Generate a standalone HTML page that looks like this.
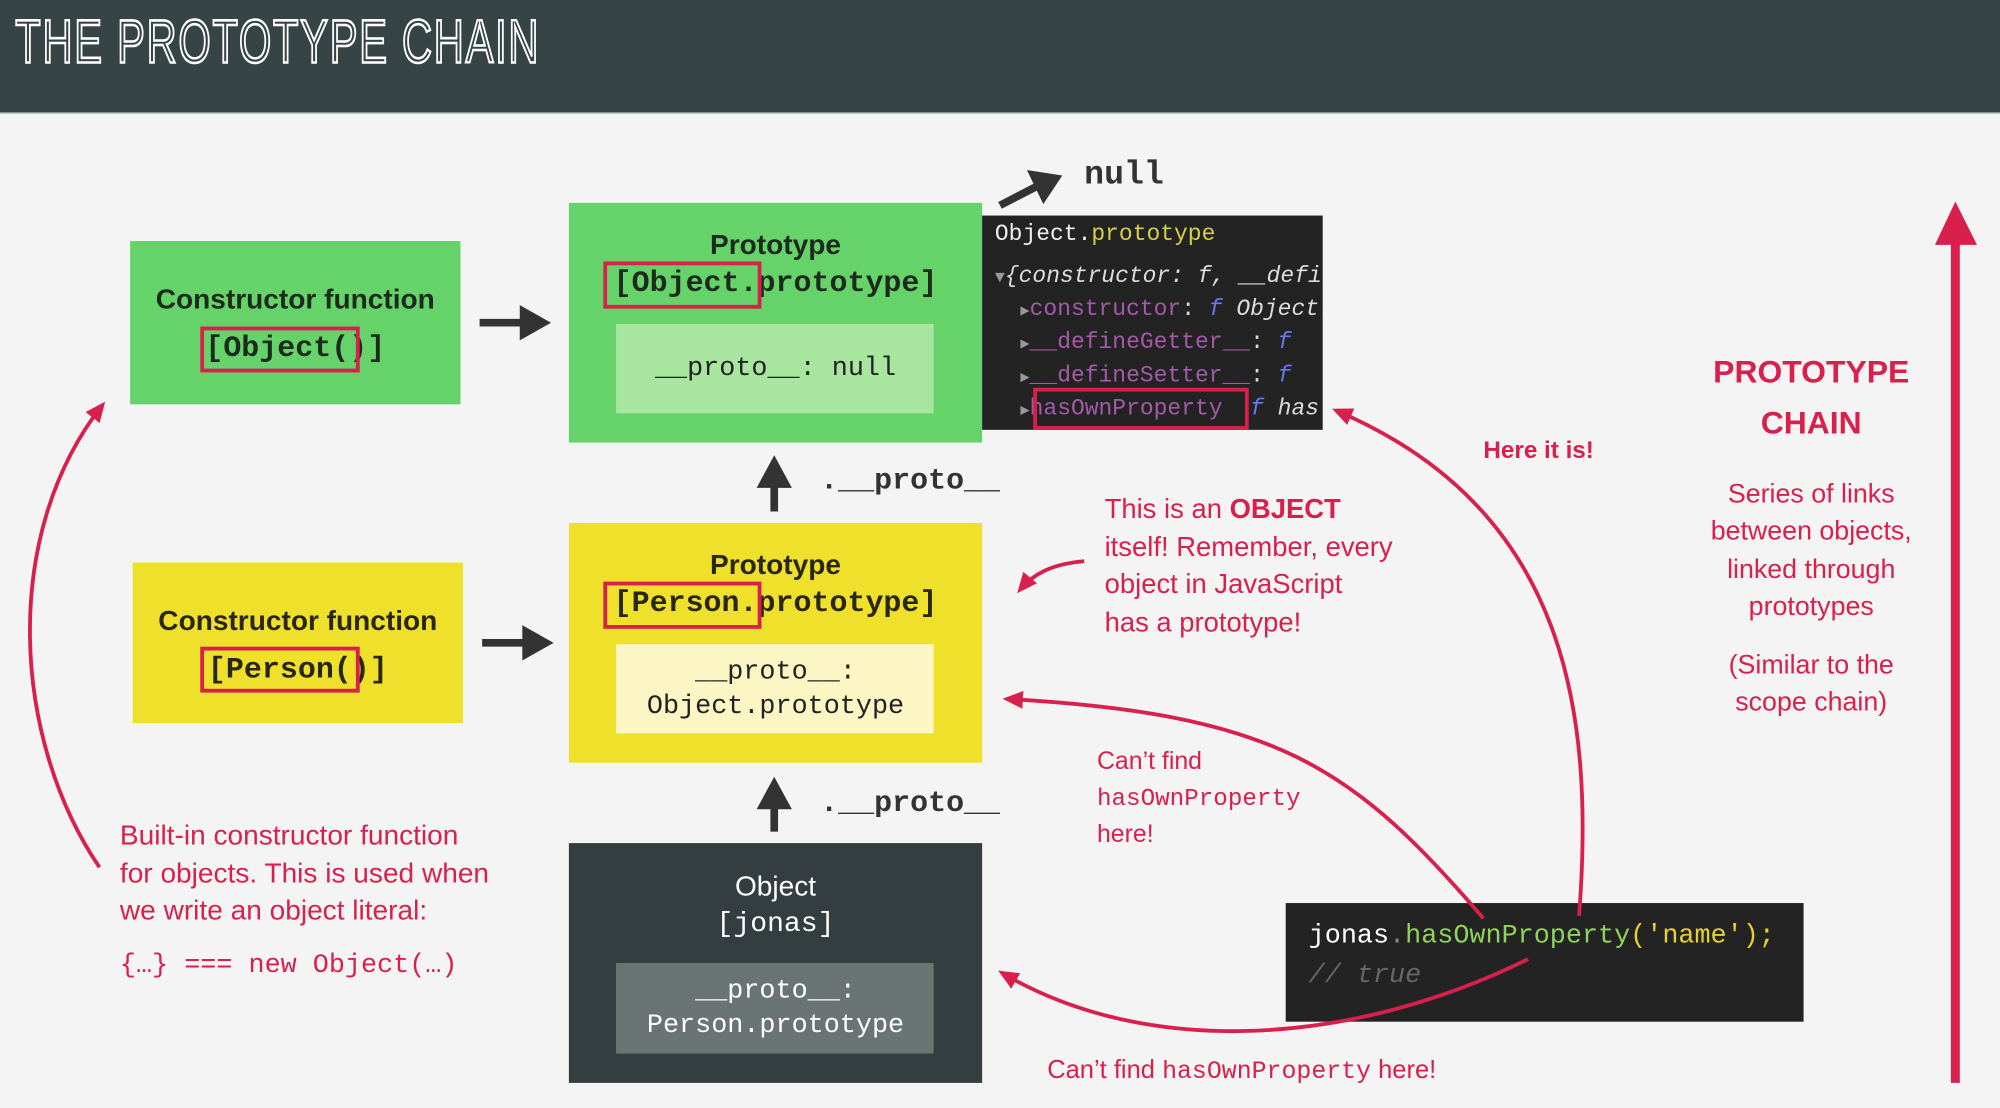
<!DOCTYPE html>
<html><head><meta charset="utf-8"><style>
html,body{margin:0;padding:0;width:2000px;height:1108px;overflow:hidden;background:#f4f4f4}
#s{position:absolute;left:0;top:0;width:1568px;height:869px;transform:scale(1.27551);transform-origin:0 0;font-family:"Liberation Sans",sans-serif}
.a{position:absolute}
.box{position:absolute;text-align:center}
.t{position:absolute;left:0;right:0;text-align:center;white-space:nowrap}
.sans{font-family:"Liberation Sans",sans-serif;font-weight:bold;font-size:22px}
.mono{font-family:"Liberation Mono",monospace;font-weight:bold;font-size:23.5px}
.rb{position:absolute;border:3px solid #d8204d;box-sizing:border-box}
.red{color:#d8204d}
.mc{font-family:"Liberation Mono",monospace}
</style></head><body><div id="s">
<div class="a" style="left:0;top:0;width:1568px;height:88px;background:#374446;border-bottom:1px solid #9aa"></div>
<div class="a" style="left:12px;top:6px;font-family:'Liberation Sans Narrow','Liberation Sans',sans-serif;font-size:48px;color:#374446;-webkit-text-stroke:2px #fff;letter-spacing:2px;transform:scaleX(0.68);transform-origin:0 0;white-space:nowrap">THE PROTOTYPE CHAIN</div>

<div class="box" style="left:102px;top:189px;width:259px;height:128px;background:#66d36a">
<div class="t sans" style="top:33px;color:#1d2b1d">Constructor function</div>
<div class="t mono" style="top:71px;color:#1d2b1d">[Object()]</div>
<div class="rb" style="left:55px;top:67px;width:125px;height:36px"></div></div>
<div class="box" style="left:446px;top:159px;width:324px;height:188px;background:#66d36a">
<div class="t sans" style="top:20px;color:#1d2b1d">Prototype</div>
<div class="t mono" style="top:50px;color:#1d2b1d">[Object.prototype]</div>
<div class="rb" style="left:27px;top:46px;width:124px;height:37px"></div>
<div class="a" style="left:37px;top:95px;width:249px;height:70px;background:#a8e6a0"></div>
<div class="t mc" style="top:119px;font-size:21px;color:#222">__proto__: null</div></div>

<div class="a mc" style="left:770px;top:169px;width:267px;height:168px;background:#232323;overflow:hidden;font-size:18px;line-height:26px;white-space:nowrap">
<div style="position:absolute;left:10px;top:2px;color:#eee">Object.<span style="color:#d8cf45">prototype</span></div>
<div style="position:absolute;left:10px;top:35px;color:#ddd;font-style:italic"><span style="font-style:normal;color:#999;font-size:13px">▼</span>{constructor: f, __defineGetter</div>
<div style="position:absolute;left:30px;top:61px;color:#a45aa8"><span style="color:#999;font-size:12px">▶</span>constructor<span style="color:#ddd">: </span><i style="color:#6b79f0">f</i> <i style="color:#ddd">Object()</i></div>
<div style="position:absolute;left:30px;top:87px;color:#a45aa8"><span style="color:#999;font-size:12px">▶</span>__defineGetter__<span style="color:#ddd">: </span><i style="color:#6b79f0">f</i></div>
<div style="position:absolute;left:30px;top:113px;color:#a45aa8"><span style="color:#999;font-size:12px">▶</span>__defineSetter__<span style="color:#ddd">: </span><i style="color:#6b79f0">f</i></div>
<div style="position:absolute;left:30px;top:139px;color:#a45aa8"><span style="color:#999;font-size:12px">▶</span>hasOwnProperty &nbsp;<i style="color:#6b79f0">f</i> <i style="color:#ddd">has</i></div>
<div class="rb" style="left:40px;top:135px;width:169px;height:33px"></div></div>
<div class="a mono" style="left:850px;top:122px;font-size:26px;color:#333">null</div>

<div class="box" style="left:104px;top:441px;width:259px;height:126px;background:#efe02b">
<div class="t sans" style="top:33px;color:#2a2710">Constructor function</div>
<div class="t mono" style="top:71px;color:#2a2710">[Person()]</div>
<div class="rb" style="left:53px;top:66px;width:125px;height:36px"></div></div>
<div class="box" style="left:446px;top:410px;width:324px;height:188px;background:#efe02b">
<div class="t sans" style="top:20px;color:#2a2710">Prototype</div>
<div class="t mono" style="top:50px;color:#2a2710">[Person.prototype]</div>
<div class="rb" style="left:27px;top:46px;width:124px;height:37px"></div>
<div class="a" style="left:37px;top:95px;width:249px;height:70px;background:#fbf6c4"></div>
<div class="t mc" style="top:104px;font-size:21px;color:#222;line-height:27px">__proto__:<br>Object.prototype</div></div>

<div class="box" style="left:446px;top:661px;width:324px;height:188px;background:#343d3f">
<div class="t" style="top:21px;font-size:22px;color:#fff">Object</div>
<div class="t mc" style="top:51px;font-size:22px;color:#fff">[jonas]</div>
<div class="a" style="left:37px;top:94px;width:249px;height:71px;background:#6a7472"></div>
<div class="t mc" style="top:103px;font-size:21px;color:#fff;line-height:27px">__proto__:<br>Person.prototype</div></div>

<div class="a mono" style="left:643px;top:364px;color:#333">.__proto__</div>
<div class="a mono" style="left:643px;top:617px;color:#333">.__proto__</div>

<div class="a mc" style="left:1008px;top:708px;width:406px;height:93px;background:#232323;font-size:21px;white-space:nowrap">
<div style="position:absolute;left:18px;top:15px;color:#fff">jonas<span style="color:#888">.</span><span style="color:#8fd35a">hasOwnProperty</span><span style="color:#e6d02e">('name');</span></div>
<div style="position:absolute;left:18px;top:46px;color:#666;font-style:italic">// true</div></div>

<div class="a red" style="left:866px;top:385px;font-size:21.5px;line-height:29.5px;white-space:nowrap">This is an <b>OBJECT</b><br>itself! Remember, every<br>object in JavaScript<br>has a prototype!</div>
<div class="a red" style="left:860px;top:583px;font-size:19.5px;line-height:28px;white-space:nowrap">Can’t find<br><span class="mc" style="font-size:19px">hasOwnProperty</span><br>here!</div>
<div class="a red" style="left:821px;top:828px;font-size:20px;white-space:nowrap">Can’t find <span class="mc" style="font-size:19.5px">hasOwnProperty</span> here!</div>
<div class="a red" style="left:1163px;top:343px;font-size:19px;font-weight:bold">Here it is!</div>
<div class="a red" style="left:94px;top:640px;font-size:22px;line-height:29.5px;white-space:nowrap">Built-in constructor function<br>for objects. This is used when<br>we write an object literal:</div>
<div class="a red mc" style="left:94px;top:746px;font-size:21px;white-space:nowrap">{…} === new Object(…)</div>
<div class="a red" style="left:1310px;top:272px;width:220px;text-align:center;font-size:25px;font-weight:bold;line-height:40px">PROTOTYPE<br>CHAIN</div>
<div class="a red" style="left:1310px;top:373px;width:220px;text-align:center;font-size:21px;line-height:29.3px">Series of links<br>between objects,<br>linked through<br>prototypes</div>
<div class="a red" style="left:1310px;top:507px;width:220px;text-align:center;font-size:21px;line-height:29.3px">(Similar to the<br>scope chain)</div>

<svg class="a" style="left:0;top:0" width="1568" height="869">
<defs><marker id="r" markerWidth="16" markerHeight="14" refX="12" refY="7" orient="auto" markerUnits="userSpaceOnUse"><path d="M0,0 L16,7 L0,14 z" fill="#d8204d"/></marker></defs>
<g fill="#333" stroke="#333">
<line x1="376" y1="253" x2="412" y2="253" stroke-width="6"/><path d="M408,240 L431,253 L408,266z"/>
<line x1="378" y1="504" x2="414" y2="504" stroke-width="6"/><path d="M410,491 L433,504 L410,517z"/>
<line x1="607" y1="401" x2="607" y2="378" stroke-width="6"/><path d="M594,382 L607,358 L620,382z"/>
<line x1="607" y1="652" x2="607" y2="630" stroke-width="6"/><path d="M594,634 L607,610 L620,634z"/>
<line x1="784" y1="161" x2="815" y2="145" stroke-width="6"/><path d="M806,134 L832,138 L818,159z"/>
</g>
<g fill="none" stroke="#d8204d" stroke-width="3">
<path d="M78,680 C10,580 0,420 80,318" marker-end="url(#r)"/>
<path d="M850,440 C825,442 810,450 800,462" marker-end="url(#r)"/>
<path d="M1238,718 C1250,560 1230,400 1048,322" marker-end="url(#r)"/>
<path d="M1163,720 C1060,600 1000,560 790,548" marker-end="url(#r)"/>
<path d="M1198,752 C1060,820 900,830 786,763" marker-end="url(#r)"/>
</g>
<line x1="1533" y1="849" x2="1533" y2="185" stroke="#d8204d" stroke-width="7"/>
<path d="M1517,192 L1533,158 L1550,192z" fill="#d8204d"/>
</svg>
</div></body></html>
